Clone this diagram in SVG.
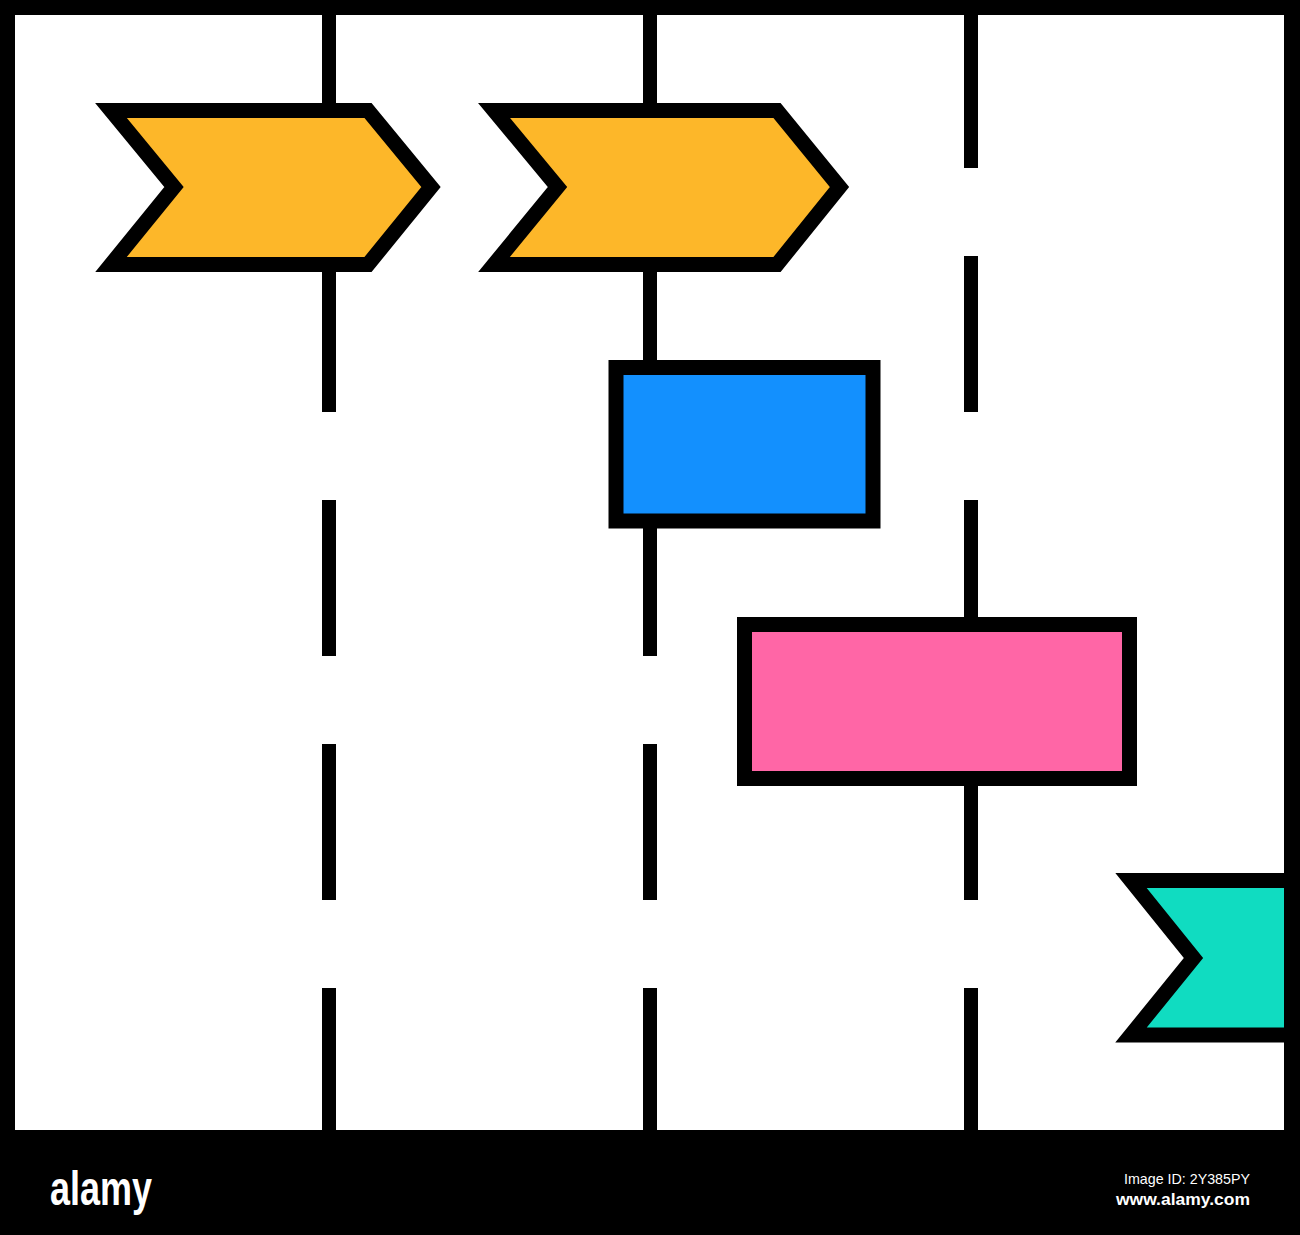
<svg xmlns="http://www.w3.org/2000/svg" width="1300" height="1235" viewBox="0 0 1300 1235">
  <style>
    .grid { stroke: #000; stroke-width: 14; stroke-dasharray: 156 88; fill: none; }
    .shape { stroke: #000; stroke-width: 15; stroke-linejoin: miter; stroke-miterlimit: 10; }
    .logo { font-family: "Liberation Sans", Arial, sans-serif; fill: #fff; }
  </style>
  <rect x="0" y="0" width="1300" height="1235" fill="#fff"/>
  <g id="connectors">
    <line class="grid" x1="329" y1="12" x2="329" y2="1145"/>
    <line class="grid" x1="650" y1="12" x2="650" y2="1145"/>
    <line class="grid" x1="971" y1="12" x2="971" y2="1145"/>
  </g>
  <g id="task1">
    <path class="shape" fill="#FDB729" d="M111,110.5 H368 L431,187 L368,264.5 H111 L174,187 Z"/>
  </g>
  <g id="task2">
    <path class="shape" fill="#FDB729" d="M494,110.5 H777 L839.5,187 L777,264.5 H494 L557.5,187 Z"/>
  </g>
  <g id="task3">
    <rect class="shape" fill="#1390FE" x="616" y="367.5" width="257" height="153.5"/>
  </g>
  <g id="task4">
    <rect class="shape" fill="#FF66A6" x="744.5" y="624.5" width="385" height="154"/>
  </g>
  <g id="task5">
    <path class="shape" fill="#10DCC1" d="M1131,880.5 H1310 V1035 H1131 L1193.5,958 Z"/>
  </g>
  <g id="frame">
    <path fill="#000" fill-rule="evenodd" d="M0,0 H1300 V1235 H0 Z M15,15 V1130 H1284 V15 Z"/>
  </g>
  <g id="footer">
    <text class="logo" x="50" y="1205" font-size="48" font-weight="bold" textLength="102" lengthAdjust="spacingAndGlyphs">alamy</text>
    <text class="logo" x="1250" y="1184" font-size="15" text-anchor="end" textLength="126" lengthAdjust="spacingAndGlyphs">Image ID: 2Y385PY</text>
    <text class="logo" x="1250" y="1205" font-size="16" font-weight="bold" text-anchor="end" textLength="134" lengthAdjust="spacingAndGlyphs">www.alamy.com</text>
  </g>
</svg>
